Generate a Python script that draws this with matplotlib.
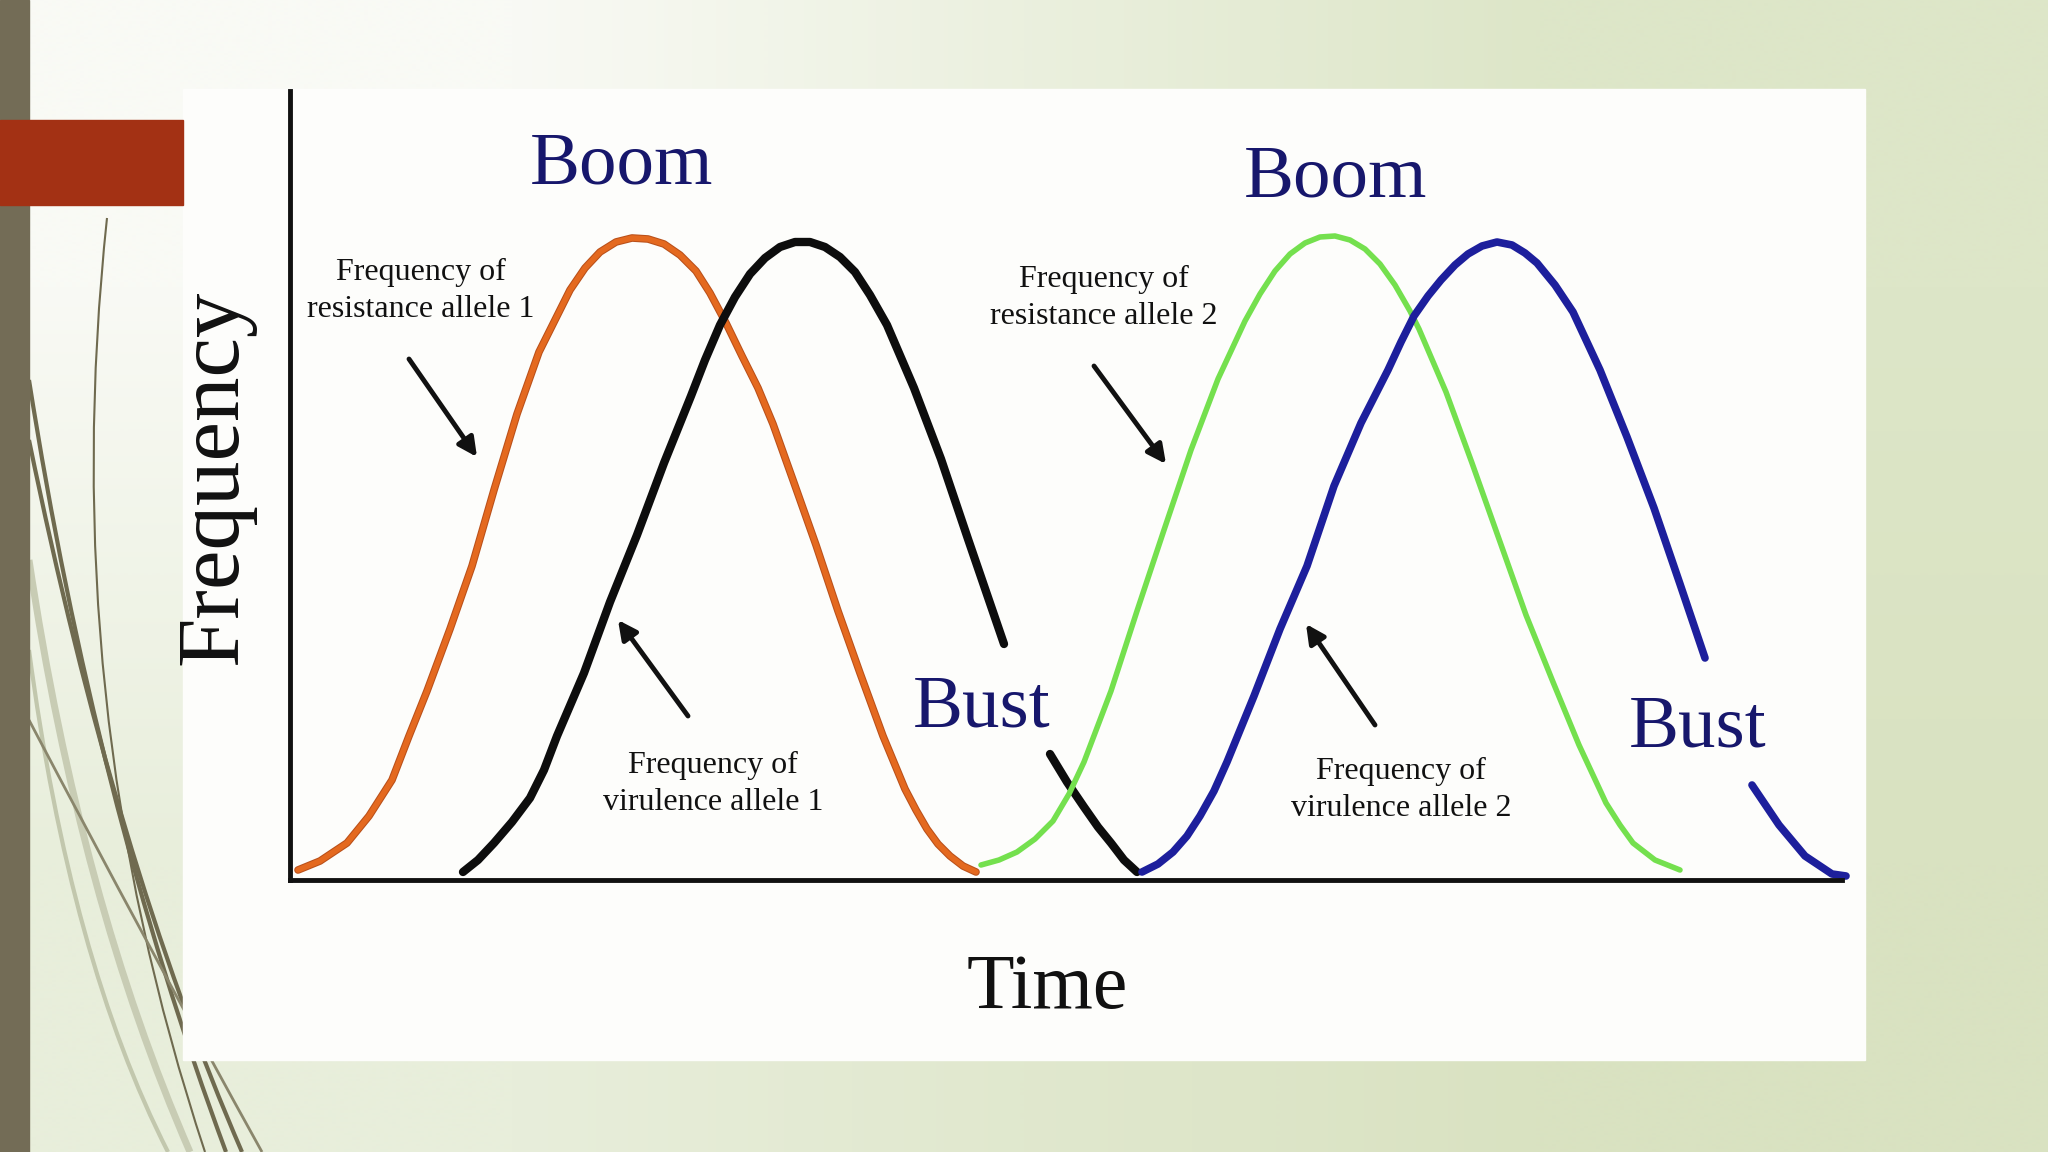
import matplotlib
matplotlib.use('Agg')
import matplotlib.pyplot as plt
import numpy as np
from matplotlib.patches import Rectangle, PathPatch
from matplotlib.path import Path
import matplotlib.patheffects as pe

# curve values (time units, frequency units)
orange_t = [0.8, 3.0, 5.7, 7.9, 10.2, 11.9, 13.7, 16.0, 18.2, 20.4, 22.7, 24.9, 26.5, 28.0,
            29.5, 31.0, 32.6, 34.2, 35.8, 37.4, 39.0, 40.6, 42.0, 43.6, 45.2, 46.8, 48.3,
            50.3, 52.6, 54.8, 57.0, 59.3, 61.5, 62.6, 63.7, 64.8, 66.0, 67.3, 68.6]
orange_f = [1.0, 1.9, 3.7, 6.4, 10.0, 14.4, 18.9, 25.1, 31.4, 39.0, 46.6, 52.8, 56.0, 59.0,
            61.2, 62.8, 63.8, 64.2, 64.1, 63.6, 62.5, 60.9, 58.7, 55.7, 52.4, 49.2, 45.6,
            40.0, 33.5, 26.9, 20.7, 14.4, 9.1, 7.0, 5.1, 3.6, 2.4, 1.4, 0.8]

black_t = [17.3, 18.8, 20.4, 22.2, 24.0, 25.4, 26.7, 29.4, 32.0, 34.7, 37.4, 40.1, 41.5, 43.0,
           44.5, 46.0, 47.5, 49.0, 50.5, 52.0, 53.5, 55.0, 56.5, 58.0, 59.7, 62.4, 65.1,
           67.8, 71.4]
black_f = [0.8, 2.0, 3.7, 5.8, 8.2, 11.0, 14.4, 20.7, 27.8, 34.5, 41.7, 48.4, 52.0, 55.5,
           58.3, 60.6, 62.2, 63.3, 63.8, 63.8, 63.3, 62.3, 60.8, 58.5, 55.5, 49.2, 42.1,
           34.1, 23.6]
black_tail_t = [76.0, 77.7, 79.4, 80.8, 82.1, 83.4, 84.7]
black_tail_f = [12.6, 9.8, 7.3, 5.3, 3.7, 2.0, 0.8]

green_t = [69.1, 70.9, 72.7, 74.5, 76.3, 77.9, 79.4, 82.1, 84.7, 87.4, 90.1, 92.8, 95.5, 97.0,
           98.5, 100.0, 101.5, 103.0, 104.5, 106.0, 107.5, 109.0, 110.5, 112.0, 112.9, 115.6,
           118.2, 120.9, 123.6, 126.3, 128.9, 131.6, 133.0, 134.3, 136.5, 139.0]
green_f = [1.5, 2.0, 2.8, 4.1, 5.9, 8.6, 11.8, 18.9, 26.9, 35.0, 43.0, 50.1, 55.9, 58.6,
           60.9, 62.6, 63.7, 64.3, 64.4, 64.0, 63.1, 61.6, 59.5, 56.9, 55.1, 48.8,
           41.7, 34.1, 26.5, 19.8, 13.5, 7.7, 5.5, 3.7, 2.0, 1.0]

blue_t = [85.2, 86.8, 88.3, 89.7, 91.0, 92.4, 93.7, 96.4, 99.0, 101.7, 104.4, 107.1, 109.8,
          111.1, 112.4, 113.8, 115.1, 116.5, 117.8, 119.2, 120.7, 122.2, 123.5, 124.7, 126.5,
          128.3, 131.0, 133.7, 136.4, 139.0, 141.5]
blue_f = [0.8, 1.6, 2.8, 4.4, 6.4, 8.9, 11.8, 18.4, 25.1, 31.4, 39.4, 45.7, 51.0,
          53.8, 56.4, 58.4, 60.0, 61.5, 62.6, 63.4, 63.8, 63.5, 62.7, 61.7, 59.5,
          56.8, 51.0, 44.3, 37.2, 29.6, 22.2]
blue_tail_t = [146.2, 148.9, 151.5, 154.2, 155.6]
blue_tail_f = [9.5, 5.5, 2.4, 0.6, 0.4]

# labels on the chart
boom_bust = ['Boom', 'Boom', 'Bust', 'Bust']
boom_bust_xy = [(33.2, 71.4), (104.5, 70.1), (69.2, 17.1), (140.8, 15.1)]
notes = ['Frequency of\nresistance allele 1', 'Frequency of\nvirulence allele 1',
         'Frequency of\nresistance allele 2', 'Frequency of\nvirulence allele 2']
notes_xy = [(13.1, 58.9), (42.3, 9.6), (81.4, 58.2), (111.1, 9.0)]
arrow_tail = [(11.9, 52.1), (39.8, 16.4), (80.4, 51.4), (108.5, 15.5)]
arrow_tip = [(18.7, 42.3), (32.8, 26.0), (87.6, 41.6), (101.6, 25.6)]

W, H = 2048, 1152
fig = plt.figure(figsize=(W / 100, H / 100), dpi=100)

# slide background (pixel coords, y down)
bg = fig.add_axes([0, 0, 1, 1])
bg.set_xlim(0, W)
bg.set_ylim(H, 0)
bg.axis('off')
corners = np.array([[[249, 250, 245], [221, 230, 200]],
                    [[232, 238, 219], [217, 226, 193]]]) / 255.0
bg.imshow(corners, extent=[0, W, H, 0], interpolation='bilinear', aspect='auto', zorder=0)

# decorative swooshes on the left
swoosh = [((107, 218), (55, 700), (205, 1152), 1.5, '#6f6a4f'),
          ((29, 380), (95, 800), (226, 1152), 3.0, '#6f6a4f'),
          ((29, 440), (115, 860), (242, 1152), 3.0, '#6f6a4f'),
          ((29, 560), (80, 900), (190, 1152), 5.0, '#c8ccb4'),
          ((29, 650), (70, 960), (168, 1152), 3.0, '#c2c7ad'),
          ((29, 720), (150, 950), (262, 1152), 2.0, '#8a866c')]
for p0, p1, p2, lw, col in swoosh:
    path = Path([p0, p1, p2], [Path.MOVETO, Path.CURVE3, Path.CURVE3])
    bg.add_patch(PathPatch(path, fill=False, lw=lw, edgecolor=col, zorder=1))

bg.add_patch(Rectangle((0, 0), 29, H, color='#736c56', zorder=3))
bg.add_patch(Rectangle((183, 89), 1682, 971, color='#fdfdfb', zorder=2))
bg.add_patch(Rectangle((0, 120), 183, 85, color='#a33114', zorder=4))

# chart axes
ax = fig.add_axes([290 / W, 1 - 880 / H, (1842 - 290) / W, (880 - 91) / H])
ax.set_facecolor('none')
ax.set_xlim(0, 155.2)
ax.set_ylim(0, 78.9)
ax.set_xticks([])
ax.set_yticks([])
for s in ['top', 'right']:
    ax.spines[s].set_visible(False)
for s in ['left', 'bottom']:
    ax.spines[s].set_linewidth(3.5)
    ax.spines[s].set_color('#111111')

line_kw = dict(solid_joinstyle='round', solid_capstyle='round', clip_on=False)
ax.plot(orange_t, orange_f, color='#e4691f', lw=4.0,
        path_effects=[pe.Stroke(linewidth=5.5, foreground='#b9501a'), pe.Normal()], **line_kw)
ax.plot(black_t, black_f, color='#0d0d0d', lw=6.0, **line_kw)
ax.plot(black_tail_t, black_tail_f, color='#0d0d0d', lw=6.0, **line_kw)
ax.plot(green_t, green_f, color='#74e04e', lw=4.0, **line_kw)
ax.plot(blue_t, blue_f, color='#1d1f9c', lw=5.5, **line_kw)
ax.plot(blue_tail_t, blue_tail_f, color='#1d1f9c', lw=5.5, **line_kw)

serif = ['Liberation Serif', 'DejaVu Serif']
for word, (x, y) in zip(boom_bust, boom_bust_xy):
    ax.text(x, y, word, ha='center', va='center', fontsize=54, color='#17176c', family=serif)

for txt, (x, y) in zip(notes, notes_xy):
    ax.text(x, y, txt, ha='center', va='center', fontsize=23, color='#111111',
            family=serif, linespacing=1.35)

for (x0, y0), (x1, y1) in zip(arrow_tail, arrow_tip):
    ax.annotate('', xy=(x1, y1), xytext=(x0, y0),
                arrowprops=dict(arrowstyle='-|>', color='#111111', lw=3.5,
                                mutation_scale=28, shrinkA=0, shrinkB=0))

ax.text(75.7, -10.9, 'Time', ha='center', va='center', fontsize=56, color='#111111',
        family=serif, clip_on=False)
ax.text(-7.5, 40.3, 'Frequency', ha='center', va='center', fontsize=64, color='#111111',
        family=serif, rotation=90, clip_on=False)

fig.savefig('out.png', dpi=100)
